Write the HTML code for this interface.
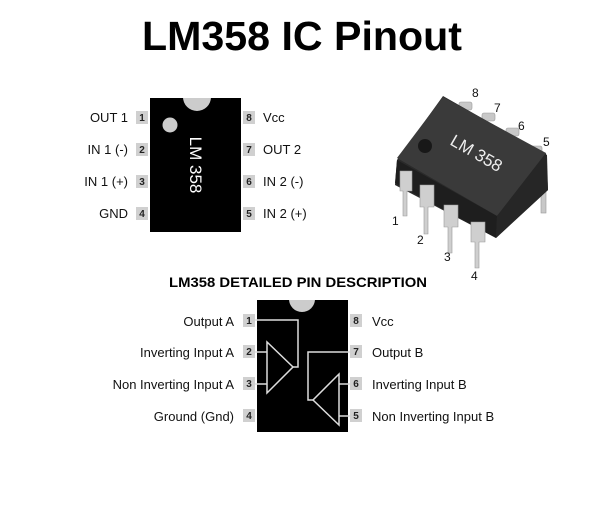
<!DOCTYPE html>
<html><head><meta charset="utf-8"><style>
html,body{margin:0;padding:0;background:#fff;}
svg{display:block;font-family:"Liberation Sans",Arial,sans-serif;}
</style></head><body>
<svg width="600" height="510" viewBox="0 0 600 510" xmlns="http://www.w3.org/2000/svg">
<defs>
<clipPath id="c1"><rect x="150" y="98" width="91" height="134"/></clipPath>
<clipPath id="c2"><rect x="257" y="300" width="91" height="132"/></clipPath>
</defs>
<text x="302" y="50" text-anchor="middle" font-size="41" font-weight="bold" textLength="320" lengthAdjust="spacingAndGlyphs">LM358 IC Pinout</text>

<!-- Top chip -->
<rect x="150" y="98" width="91" height="134" fill="#000"/>
<circle cx="197" cy="97" r="14" fill="#ccc" clip-path="url(#c1)"/>
<circle cx="170" cy="125" r="7.5" fill="#ccc"/>
<text transform="translate(190,165) rotate(90)" text-anchor="middle" font-size="17" fill="#fff">LM 358</text>
<g fill="#d0d0d0">
<rect x="136" y="111" width="12" height="13"/><rect x="136" y="143" width="12" height="13"/>
<rect x="136" y="175" width="12" height="13"/><rect x="136" y="207" width="12" height="13"/>
<rect x="243" y="111" width="12" height="13"/><rect x="243" y="143" width="12" height="13"/>
<rect x="243" y="175" width="12" height="13"/><rect x="243" y="207" width="12" height="13"/>
</g>
<g font-size="10" font-weight="bold" text-anchor="middle" fill="#222">
<text x="142" y="121">1</text><text x="142" y="153">2</text><text x="142" y="185">3</text><text x="142" y="217">4</text>
<text x="249" y="121">8</text><text x="249" y="153">7</text><text x="249" y="185">6</text><text x="249" y="217">5</text>
</g>
<g font-size="13" fill="#111">
<g text-anchor="end">
<text x="128" y="122">OUT 1</text><text x="128" y="154">IN 1 (-)</text><text x="128" y="186">IN 1 (+)</text><text x="128" y="218">GND</text>
</g>
<text x="263" y="122">Vcc</text><text x="263" y="154">OUT 2</text><text x="263" y="186">IN 2 (-)</text><text x="263" y="218">IN 2 (+)</text>
</g>

<!-- Photo chip -->
<g>
<g fill="#c8c8c8" stroke="#999" stroke-width="0.6">
<rect x="459" y="102" width="13" height="8" rx="2"/>
<rect x="482" y="113" width="13" height="8" rx="2"/>
<rect x="506" y="128" width="13" height="8" rx="2"/>
<rect x="529" y="146" width="13" height="8" rx="2"/>
<rect x="541" y="185" width="5" height="28"/>
</g>
<polygon points="397,160 443,96 547,155 548,190 496,238 395,185" fill="#2a2a2a"/>
<polygon points="397,158 443,97 546,153 497,216" fill="#3a3a3a"/>
<polygon points="397,160 497,216 496,238 395,183" fill="#1e1e1e"/>
<polygon points="497,216 546,153 548,190 496,238" fill="#262626"/>
<circle cx="425" cy="146" r="7" fill="#181818"/>
<text transform="translate(449,144) rotate(30)" font-size="17" fill="#eee">LM 358</text>
<g fill="#cfcfcf" stroke="#999" stroke-width="0.6">
<path d="M400 171 h12 v20 h-5 v25 h-4 v-25 h-3z"/>
<path d="M420 185 h14 v22 h-6 v27 h-4 v-27 h-4z"/>
<path d="M444 205 h14 v22 h-6 v26 h-4 v-26 h-4z"/>
<path d="M471 222 h14 v20 h-6 v26 h-4 v-26 h-4z"/>
</g>
<g font-size="12" fill="#111">
<text x="472" y="97">8</text><text x="494" y="112">7</text><text x="518" y="130">6</text><text x="543" y="146">5</text>
<text x="392" y="225">1</text><text x="417" y="244">2</text><text x="444" y="261">3</text><text x="471" y="280">4</text>
</g>
</g>

<!-- Bottom heading -->
<text x="298" y="287" text-anchor="middle" font-size="14" font-weight="bold" textLength="258" lengthAdjust="spacingAndGlyphs">LM358 DETAILED PIN DESCRIPTION</text>

<!-- Bottom chip -->
<rect x="257" y="300" width="91" height="132" fill="#000"/>
<circle cx="302" cy="299" r="13" fill="#ccc" clip-path="url(#c2)"/>
<g fill="#d0d0d0">
<rect x="243" y="314" width="12" height="13"/><rect x="243" y="345" width="12" height="13"/>
<rect x="243" y="377" width="12" height="13"/><rect x="243" y="409" width="12" height="13"/>
<rect x="350" y="314" width="12" height="13"/><rect x="350" y="345" width="12" height="13"/>
<rect x="350" y="377" width="12" height="13"/><rect x="350" y="409" width="12" height="13"/>
</g>
<g font-size="10" font-weight="bold" text-anchor="middle" fill="#222">
<text x="249" y="324">1</text><text x="249" y="355">2</text><text x="249" y="387">3</text><text x="249" y="419">4</text>
<text x="356" y="324">8</text><text x="356" y="355">7</text><text x="356" y="387">6</text><text x="356" y="419">5</text>
</g>
<g fill="none" stroke="#ddd" stroke-width="1.5">
<polygon points="267,342 267,393 293,367"/>
<polyline points="255,320 298,320 298,367 293,367"/>
<line x1="255" y1="352" x2="267" y2="352"/><line x1="255" y1="384" x2="267" y2="384"/>
<polygon points="339,374 339,425 313,400"/>
<polyline points="313,400 308,400 308,352 350,352"/>
<line x1="339" y1="384" x2="350" y2="384"/><line x1="339" y1="416" x2="350" y2="416"/>
</g>
<g font-size="13" fill="#111">
<g text-anchor="end">
<text x="234" y="326">Output A</text><text x="234" y="357">Inverting Input A</text><text x="234" y="389">Non Inverting Input A</text><text x="234" y="421">Ground (Gnd)</text>
</g>
<text x="372" y="326">Vcc</text><text x="372" y="357">Output B</text><text x="372" y="389">Inverting Input B</text><text x="372" y="421">Non Inverting Input B</text>
</g>
</svg>
</body></html>
